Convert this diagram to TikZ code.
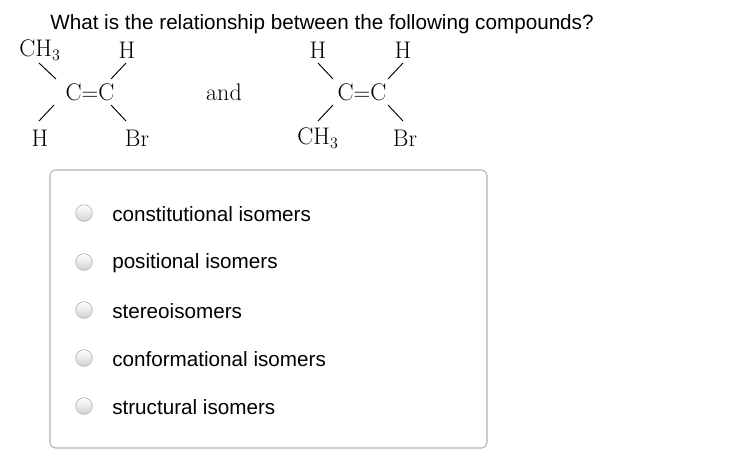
\documentclass[tikz,border=0pt]{standalone}
\usepackage{fontspec}
\newfontfamily\sans{Liberation Sans}
\begin{document}
\begin{tikzpicture}[x=0.75pt,y=-0.75pt,
  chem/.style={font=\fontsize{18}{20}\selectfont, inner sep=0pt},
  lbl/.style={font=\sans\fontsize{15.5}{17}\selectfont, anchor=west, inner sep=0pt},
  bond/.style={line width=0.7pt},
  radio/.style={circle, minimum size=12.5pt, inner sep=0pt, draw=gray!70, top color=white, bottom color=gray!35}]
\useasboundingbox (0,0) rectangle (730,462);
\node[font=\sans\fontsize{15.5}{17}\selectfont, anchor=west, inner sep=0pt] (q) at (50,24) {What is the relationship between the following compounds?};
% left molecule
\node[chem] (a1) at (40,50) {CH$_3$};
\node[chem] (a2) at (127,50) {H};
\node[chem] (a3) at (90,92) {C$=$C};
\node[chem] (a4) at (40,138) {H};
\node[chem] (a5) at (137,138) {Br};
\coordinate (la) at (39,63); \coordinate (lb) at (56,79);
\coordinate (lc) at (126,63); \coordinate (ld) at (111,79);
\coordinate (le) at (54,105); \coordinate (lf) at (39,121);
\coordinate (lg) at (111,105); \coordinate (lh) at (126,121);
\draw[bond] (la) -- (lb); \draw[bond] (lc) -- (ld);
\draw[bond] (le) -- (lf); \draw[bond] (lg) -- (lh);
\node[chem] (and) at (224,92) {and};
% right molecule
\node[chem] (b1) at (318,50) {H};
\node[chem] (b2) at (403,50) {H};
\node[chem] (b3) at (362,92) {C$=$C};
\node[chem] (b4) at (318,138) {CH$_3$};
\node[chem] (b5) at (405,138) {Br};
\coordinate (ra) at (318,63); \coordinate (rb) at (333,79);
\coordinate (rc) at (403,63); \coordinate (rd) at (388,79);
\coordinate (re) at (333,105); \coordinate (rf) at (318,121);
\coordinate (rg) at (388,105); \coordinate (rh) at (403,121);
\draw[bond] (ra) -- (rb); \draw[bond] (rc) -- (rd);
\draw[bond] (re) -- (rf); \draw[bond] (rg) -- (rh);
% box
\draw[gray!60, line width=0.8pt, rounded corners=4pt] (50,170) rectangle (487,448);
\foreach \y/\t [count=\i] in {213/constitutional isomers,262/positional isomers,310/stereoisomers,358/conformational isomers,406/structural isomers}{
  \node[radio] (r\i) at (84,\y) {};
  \node[lbl] (t\i) at (112,\y+1) {\t};
}
\end{tikzpicture}
\end{document}
